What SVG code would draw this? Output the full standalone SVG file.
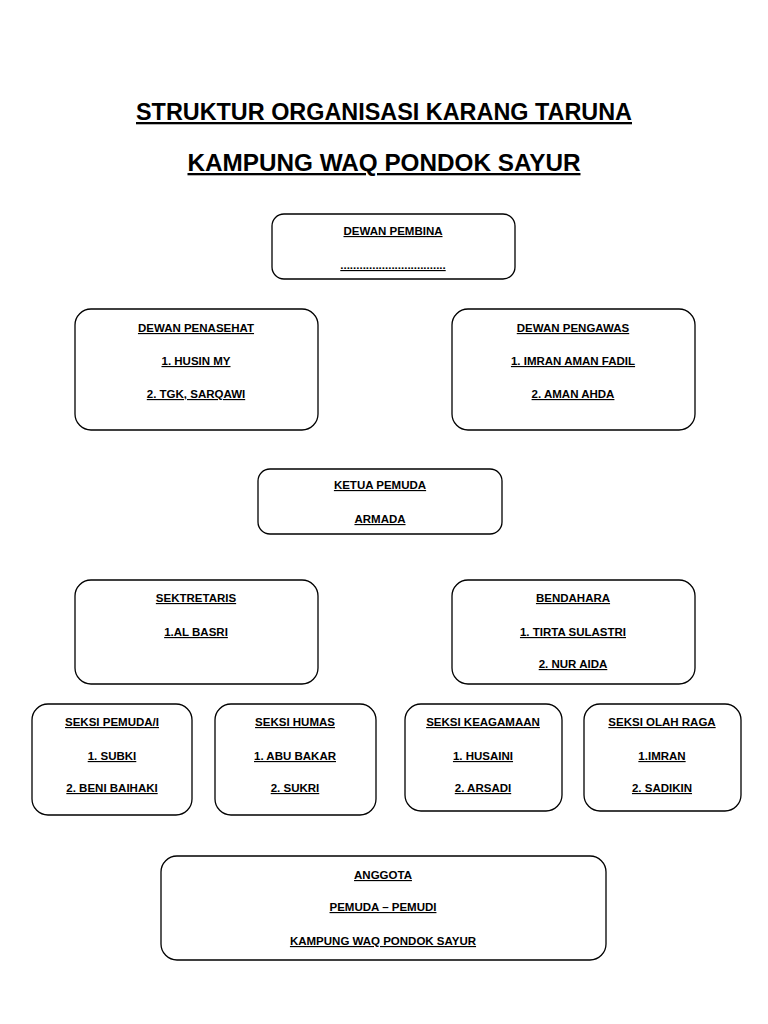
<svg xmlns="http://www.w3.org/2000/svg" width="768" height="1024" viewBox="0 0 768 1024">
<style>
.b{fill:#fff;stroke:#000;stroke-width:1.3}
.t{font-family:"Liberation Sans",Arial,sans-serif;font-weight:bold;font-size:11.5px;text-anchor:middle;text-decoration:underline;fill:#000}
.h{font-family:"Liberation Sans",Arial,sans-serif;font-weight:bold;font-size:23px;text-anchor:middle;text-decoration:underline;fill:#000}
</style>
<rect width="768" height="1024" fill="#fff"/>
<text class="h" x="384" y="120" textLength="496" lengthAdjust="spacingAndGlyphs">STRUKTUR ORGANISASI KARANG TARUNA</text>
<text class="h" x="384" y="171" textLength="393" lengthAdjust="spacingAndGlyphs">KAMPUNG WAQ PONDOK SAYUR</text>
<g id="pembina"><rect class="b" x="272" y="214" width="243" height="65" rx="12"/><text class="t" x="393" y="235">DEWAN PEMBINA</text><text class="t" x="393" y="269">.................................</text></g>
<g id="penasehat"><rect class="b" x="75" y="309" width="243" height="121" rx="16"/><text class="t" x="196" y="332">DEWAN PENASEHAT</text><text class="t" x="196" y="365">1. HUSIN MY</text><text class="t" x="196" y="398">2. TGK, SARQAWI</text></g>
<g id="pengawas"><rect class="b" x="452" y="309" width="243" height="121" rx="16"/><text class="t" x="573" y="332">DEWAN PENGAWAS</text><text class="t" x="573" y="365">1. IMRAN AMAN FADIL</text><text class="t" x="573" y="398">2. AMAN AHDA</text></g>
<g id="ketua"><rect class="b" x="258" y="469" width="244" height="65" rx="12"/><text class="t" x="380" y="489">KETUA PEMUDA</text><text class="t" x="380" y="523">ARMADA</text></g>
<g id="sekretaris"><rect class="b" x="75" y="580" width="243" height="104" rx="16"/><text class="t" x="196" y="602">SEKTRETARIS</text><text class="t" x="196" y="636">1.AL BASRI</text></g>
<g id="bendahara"><rect class="b" x="452" y="580" width="243" height="104" rx="16"/><text class="t" x="573" y="602">BENDAHARA</text><text class="t" x="573" y="636">1. TIRTA SULASTRI</text><text class="t" x="573" y="668">2. NUR AIDA</text></g>
<g id="pemuda"><rect class="b" x="32" y="704" width="160" height="111" rx="16"/><text class="t" x="112" y="726">SEKSI PEMUDA/I</text><text class="t" x="112" y="760">1. SUBKI</text><text class="t" x="112" y="792">2. BENI BAIHAKI</text></g>
<g id="humas"><rect class="b" x="215" y="704" width="161" height="111" rx="16"/><text class="t" x="295" y="726">SEKSI HUMAS</text><text class="t" x="295" y="760">1. ABU BAKAR</text><text class="t" x="295" y="792">2. SUKRI</text></g>
<g id="keagamaan"><rect class="b" x="405" y="704" width="157" height="107" rx="16"/><text class="t" x="483" y="726">SEKSI KEAGAMAAN</text><text class="t" x="483" y="760">1. HUSAINI</text><text class="t" x="483" y="792">2. ARSADI</text></g>
<g id="olahraga"><rect class="b" x="584" y="704" width="157" height="107" rx="16"/><text class="t" x="662" y="726">SEKSI OLAH RAGA</text><text class="t" x="662" y="760">1.IMRAN</text><text class="t" x="662" y="792">2. SADIKIN</text></g>
<g id="anggota"><rect class="b" x="161" y="856" width="445" height="104" rx="16"/><text class="t" x="383" y="879">ANGGOTA</text><text class="t" x="383" y="911">PEMUDA – PEMUDI</text><text class="t" x="383" y="945">KAMPUNG WAQ PONDOK SAYUR</text></g>
<g id="connectors"/>
</svg>
